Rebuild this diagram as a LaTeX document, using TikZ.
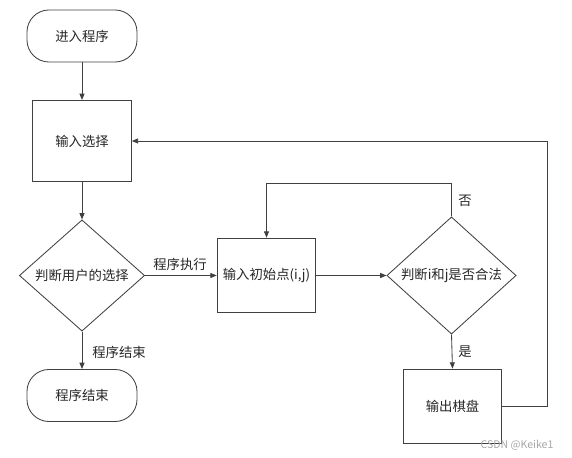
\documentclass[tikz,border=0pt]{standalone}
\usepackage{fontspec}
\setmainfont{Noto Sans CJK SC}
\usetikzlibrary{shapes.geometric,arrows.meta}

\begin{document}
\begin{tikzpicture}[x=0.025cm, y=-0.025cm,
    font=\fontsize{9.5}{11}\selectfont, text=black!85,
    line width=0.6pt,
    arr/.style={draw=black!75, -{Triangle[length=4.5pt, width=3.6pt]}},
    term/.style={draw=black!75, rounded corners=0.55cm, minimum width=2.75cm, minimum height=1.3cm},
    proc/.style={draw=black!75, minimum width=2.47cm, minimum height=1.87cm},
    test/.style={draw=black!75, diamond, inner sep=0pt, aspect=1.1}]
    \useasboundingbox (0,0) rectangle (572,458);

    \node[term] (start) at (82, 36) {进入程序};
    \node[proc, minimum height=2.03cm] (sel) at (82, 141) {输入选择};
    \node[test, minimum width=3.13cm, minimum height=2.78cm]
        (choice) at (82, 275.5) {判断用户的选择};
    \node[term] (stop) at (82, 395.5) {程序结束};
    \node[proc] (pt) at (266.5, 275.5) {输入初始点(i,j)};
    \node[test, minimum width=3.23cm, minimum height=2.93cm]
        (valid) at (451.5, 275.5) {判断i和j是否合法};
    \node[proc] (board) at (452.5, 406.5) {输出棋盘};

    \coordinate (loop) at (266.5, 183);
    \coordinate (back) at (547, 141);

    \draw[arr] (start) -- (sel);
    \draw[arr] (sel) -- (choice);
    \draw[arr] (choice) -- (stop);
    \draw[arr] (choice.east) -- (pt.west);
    \draw[arr] (pt.east) -- (valid.west);
    \draw[arr] (valid.north) |- (loop) -- (pt.north);
    \draw[arr] (valid.south) -- (board.north);
    \draw[arr] (board.east) -| (back) -- (sel.east);

    \node (lrun) at (180, 264) {程序执行};
    \node (lend) at (119, 352) {程序结束};
    \node (lno) at (465, 201) {否};
    \node (lyes) at (465, 352) {是};
    \node[text=black!35, font=\fontsize{7.5}{8}\selectfont] (mark) at (517, 445) {CSDN @Keike1};
\end{tikzpicture}
\end{document}
